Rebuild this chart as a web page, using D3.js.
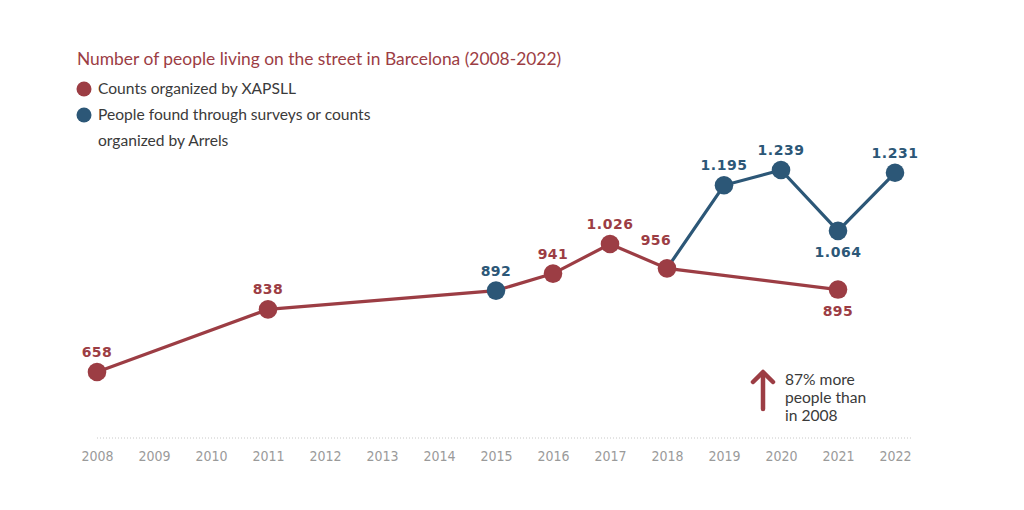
<!DOCTYPE html>
<html>
<head>
<meta charset="utf-8">
<script src="https://cdn.jsdelivr.net/npm/d3@7"></script>
<style>
  body { margin: 0; background: #fff; }
  svg { display: block; }
</style>
</head>
<body>
<div id="wrapper"></div>
<script>
const width = 1024
const height = 510

// data
const years = d3.range(2008, 2023)
const xapsllYears = [2008, 2011, 2015, 2016, 2017, 2018, 2021]
const xapsllValues = [658, 838, 892, 941, 1026, 956, 895]
const arrelsYears = [2018, 2019, 2020, 2021, 2022]
const arrelsValues = [956, 1195, 1239, 1064, 1231]
// 2015 point on the XAPSLL line comes from an Arrels survey
const arrelsOnXapsll = [2015]
// label placement: "up", "down", "left"
const xapsllLabelPos = ["up", "up", "up", "up", "up", "left", "down"]
const arrelsLabelPos = [null, "up", "up", "down", "up"]

const red = "#9c3d44"
const blue = "#2c5777"

const loc = d3.formatLocale({ decimal: ",", thousands: ".", grouping: [3], currency: ["", "€"] })
const fmt = loc.format(",d")

const svg = d3.select("#wrapper").append("svg")
    .attr("width", width)
    .attr("height", height)

const x = d3.scaleLinear().domain([2008, 2022]).range([97, 895])
const y = d3.scaleLinear().domain([468, 1239]).range([438, 170])

// baseline
svg.append("line")
    .attr("x1", 97).attr("x2", 912)
    .attr("y1", 438).attr("y2", 438)
    .attr("stroke", "#c8c8c8")
    .attr("stroke-width", 1)
    .attr("stroke-dasharray", "1,2")

// year axis
const xAxis = d3.axisBottom(x).tickValues(years).tickFormat(d => d).tickSize(0).tickPadding(0)
svg.append("g")
    .attr("transform", "translate(0,461)")
    .call(xAxis)
    .call(g => g.select(".domain").remove())
    .selectAll("text")
    .attr("dy", 0)
    .attr("fill", "#9a9a9a")
    .style("font", "14px 'DejaVu Sans Condensed', 'Liberation Sans Narrow', sans-serif")

// lines
const line = d3.line().x(d => x(d[0])).y(d => y(d[1]))
svg.append("path")
    .datum(arrelsYears.map((yr, i) => [yr, arrelsValues[i]]))
    .attr("d", line)
    .attr("fill", "none")
    .attr("stroke", blue)
    .attr("stroke-width", 3.2)
svg.append("path")
    .datum(xapsllYears.map((yr, i) => [yr, xapsllValues[i]]))
    .attr("d", line)
    .attr("fill", "none")
    .attr("stroke", red)
    .attr("stroke-width", 3.2)

// dots (the first Arrels point is shared with the XAPSLL 2018 dot)
const dots = []
xapsllYears.forEach((yr, i) => dots.push({ yr, v: xapsllValues[i], c: arrelsOnXapsll.includes(yr) ? blue : red }))
arrelsYears.slice(1).forEach((yr, i) => dots.push({ yr, v: arrelsValues[i + 1], c: blue }))
svg.append("g").selectAll("circle")
    .data(dots)
    .join("circle")
    .attr("cx", d => x(d.yr))
    .attr("cy", d => y(d.v))
    .attr("r", 9.3)
    .attr("fill", d => d.c)

// value labels
const labels = []
xapsllYears.forEach((yr, i) => { if (xapsllLabelPos[i]) labels.push({ yr, v: xapsllValues[i], c: arrelsOnXapsll.includes(yr) ? blue : red, pos: xapsllLabelPos[i] }) })
arrelsYears.forEach((yr, i) => { if (arrelsLabelPos[i]) labels.push({ yr, v: arrelsValues[i], c: blue, pos: arrelsLabelPos[i] }) })
svg.append("g").selectAll("text")
    .data(labels)
    .join("text")
    .attr("x", d => d.pos === "left" ? x(d.yr) - 11 : x(d.yr))
    .attr("y", d => d.pos === "up" ? y(d.v) - 15 : d.pos === "down" ? y(d.v) + 26 : y(d.v) - 23)
    .attr("text-anchor", "middle")
    .attr("fill", d => d.c)
    .style("font", "bold 14px 'DejaVu Sans', Verdana, sans-serif")
    .style("letter-spacing", "0.5px")
    .text(d => fmt(d.v))

// title
svg.append("text")
    .attr("x", 77).attr("y", 65)
    .attr("fill", red)
    .style("font", "17.4px Lato, 'Open Sans', sans-serif")
    .text("Number of people living on the street in Barcelona (2008-2022)")

// legend
const legend = [
    { c: red, lines: ["Counts organized by XAPSLL"] },
    { c: blue, lines: ["People found through surveys or counts", "organized by Arrels"] }
]
legend.forEach((d, i) => {
    const ly = 89 + i * 26
    svg.append("circle").attr("cx", 84).attr("cy", ly).attr("r", 7.5).attr("fill", d.c)
    d.lines.forEach((t, j) => {
        svg.append("text")
            .attr("x", 98).attr("y", ly + 5 + j * 26)
            .attr("fill", "#3a3a3a")
            .style("font", "15.6px Lato, 'Open Sans', sans-serif")
            .text(t)
    })
})

// annotation arrow
const ag = svg.append("g")
ag.append("line")
    .attr("x1", 763).attr("x2", 763)
    .attr("y1", 409).attr("y2", 373)
    .attr("stroke", red).attr("stroke-width", 4.5).attr("stroke-linecap", "round")
ag.append("path")
    .attr("d", "M753,382 L763,372 L773,382")
    .attr("fill", "none")
    .attr("stroke", red).attr("stroke-width", 4.5).attr("stroke-linecap", "round").attr("stroke-linejoin", "round")
const note = ["87% more", "people than", "in 2008"]
note.forEach((t, i) => {
    ag.append("text")
        .attr("x", 785).attr("y", 385 + i * 18)
        .attr("fill", "#3a3a3a")
        .style("font", "15.6px Lato, 'Open Sans', sans-serif")
        .text(t)
})
</script>
</body>
</html>
